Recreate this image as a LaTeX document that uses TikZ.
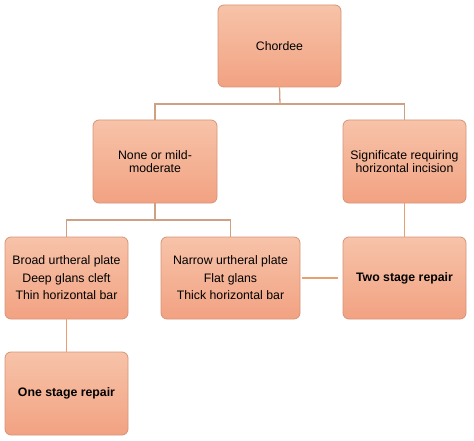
\documentclass[tikz,border=0pt]{standalone}
\usepackage{fontspec}
\setmainfont{Liberation Sans}
\definecolor{boxtop}{HTML}{F7C3A9}
\definecolor{boxbot}{HTML}{F2A282}
\definecolor{boxline}{HTML}{D59478}
\definecolor{treeline}{HTML}{CFA184}
\definecolor{orangeline}{HTML}{E8A070}
\begin{document}
\begin{tikzpicture}[x=1pt,y=-1pt,
  box/.style={draw=boxline, line width=0.8pt, rounded corners=6pt,
    top color=boxtop, bottom color=boxbot, inner sep=0pt,
    align=center, font=\fontsize{12.3}{17.5}\selectfont},
  tight/.style={font=\fontsize{12.3}{12.8}\selectfont},
  conn/.style={draw=treeline, line width=1.3pt}]
\useasboundingbox (0,0) rectangle (474,441);
\node[box, minimum width=123pt, minimum height=82pt] (chordee) at (279.5,46) {Chordee};
\node[box, tight, minimum width=124pt, minimum height=83pt] (none) at (155,161.5) {None or mild-\\moderate};
\node[box, tight, minimum width=123pt, minimum height=83pt] (sig) at (404.5,161.5) {Significate requiring\\horizontal incision};
\node[box, minimum width=123pt, minimum height=82pt] (broad) at (66.5,278) {Broad urtheral plate\\Deep glans cleft\\Thin horizontal bar};
\node[box, minimum width=139pt, minimum height=82pt] (narrow) at (230.5,278) {Narrow urtheral plate\\Flat glans\\Thick horizontal bar};
\node[box, minimum width=123pt, minimum height=82pt] (two) at (404.5,278) {\textbf{Two stage repair}};
\node[box, minimum width=123pt, minimum height=83pt] (one) at (66.5,393.5) {\textbf{One stage repair}};
\coordinate (j1) at (280,104);
\coordinate (j2) at (155,220);
\draw[conn] (chordee.south) -- (j1);
\draw[conn] (j1) -| (none.north);
\draw[conn] (j1) -| (sig.north);
\draw[conn] (none.south) -- (j2);
\draw[conn] (j2) -| (broad.north);
\draw[conn] (j2) -| (narrow.north);
\draw[conn, draw=orangeline] (sig.south) -- (two.north);
\draw[conn, draw=orangeline] (broad.south) -- (one.north);
\draw[conn, draw=orangeline, shorten <=2pt, shorten >=5pt] (narrow.east) -- (two.west);
\end{tikzpicture}
\end{document}
